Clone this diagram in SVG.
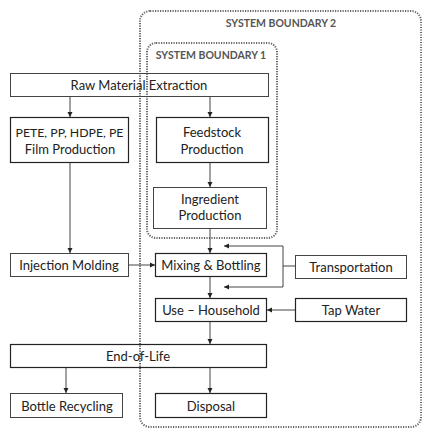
<svg xmlns="http://www.w3.org/2000/svg" width="431" height="438" viewBox="0 0 431 438">
<defs>
<style>
.box{fill:none;stroke:#444;stroke-width:1}
.box2{fill:none;stroke:#222;stroke-width:1.2}
.t{font-family:Lato,"Liberation Sans",Arial,sans-serif;font-size:13px;fill:#222;text-anchor:middle}
.lbl{font-family:Lato,"Liberation Sans",Arial,sans-serif;font-size:10.5px;font-weight:bold;fill:#555;text-anchor:middle}
.bd{fill:none;stroke:#666;stroke-width:2;stroke-dasharray:1.2 1.3}
.c{fill:none;stroke:#444;stroke-width:1;marker-end:url(#ah)}
.cl{fill:none;stroke:#444;stroke-width:1}
</style>
<marker id="ah" markerWidth="6" markerHeight="6" refX="5" refY="3" orient="auto" markerUnits="userSpaceOnUse">
<path d="M0,0.5 L5,3 L0,5.5 Z" fill="#222"/>
</marker>
</defs>
<rect width="431" height="438" fill="#fff"/>
<g id="boundaries">
<g id="boundary2"><rect class="bd" x="140" y="11" width="281" height="416" rx="10"/><text class="lbl" x="281" y="27">SYSTEM BOUNDARY 2</text></g>
<g id="boundary1"><rect class="bd" x="147" y="43" width="130" height="195" rx="9"/><text class="lbl" x="211" y="59">SYSTEM BOUNDARY 1</text></g>
</g>
<g id="connectors">
<path class="c" d="M70,96 V117"/>
<path class="c" d="M210,96 V117"/>
<path class="c" d="M210,163 V187"/>
<path class="c" d="M70,163 V253"/>
<path class="c" d="M210,228 V253"/>
<path class="c" d="M129,265 H155"/>
<path class="cl" d="M295,266 H283 M283,246 V287"/>
<path class="c" d="M283,246 H224"/>
<path class="c" d="M283,287 H224"/>
<path class="c" d="M210,276 V298"/>
<path class="c" d="M295,310 H267"/>
<path class="c" d="M210,321 V344"/>
<path class="c" d="M66,367 V393"/>
<path class="c" d="M210,367 V393"/>
</g>
<g id="raw"><rect class="box" x="10.5" y="73.5" width="258" height="23"/><text class="t" x="139" y="89.5">Raw Material Extraction</text></g>
<g id="pete"><rect class="box2" x="10.5" y="117.5" width="118" height="45"/><text class="t" x="69.5" y="137" style="font-size:12.3px">PETE, PP, HDPE, PE</text><text class="t" x="70" y="154">Film Production</text></g>
<g id="feedstock"><rect class="box2" x="156.5" y="117.5" width="112" height="45"/><text class="t" x="212" y="137">Feedstock</text><text class="t" x="212" y="154">Production</text></g>
<g id="ingredient"><rect class="box" x="153.5" y="187.5" width="113" height="41"/><text class="t" x="210" y="204">Ingredient</text><text class="t" x="210" y="220">Production</text></g>
<g id="injection"><rect class="box" x="10.5" y="253.5" width="118" height="23"/><text class="t" x="69" y="270">Injection Molding</text></g>
<g id="mixing"><rect class="box2" x="155.5" y="253.5" width="111" height="23"/><text class="t" x="211" y="270">Mixing &amp; Bottling</text></g>
<g id="transportation"><rect class="box" x="295.5" y="255.5" width="111" height="23"/><text class="t" x="351" y="272">Transportation</text></g>
<g id="use"><rect class="box2" x="155.5" y="298.5" width="111" height="23"/><text class="t" x="211" y="315">Use – Household</text></g>
<g id="tapwater"><rect class="box2" x="295.5" y="298.5" width="111" height="23"/><text class="t" x="351" y="315">Tap Water</text></g>
<g id="eol"><rect class="box2" x="10.5" y="344.5" width="256" height="23"/><text class="t" x="138" y="361">End-of-Life</text></g>
<g id="recycling"><rect class="box" x="10.5" y="393.5" width="112" height="24"/><text class="t" x="67" y="410.5">Bottle Recycling</text></g>
<g id="disposal"><rect class="box2" x="155.5" y="393.5" width="111" height="24"/><text class="t" x="211" y="410.5">Disposal</text></g>
</svg>
